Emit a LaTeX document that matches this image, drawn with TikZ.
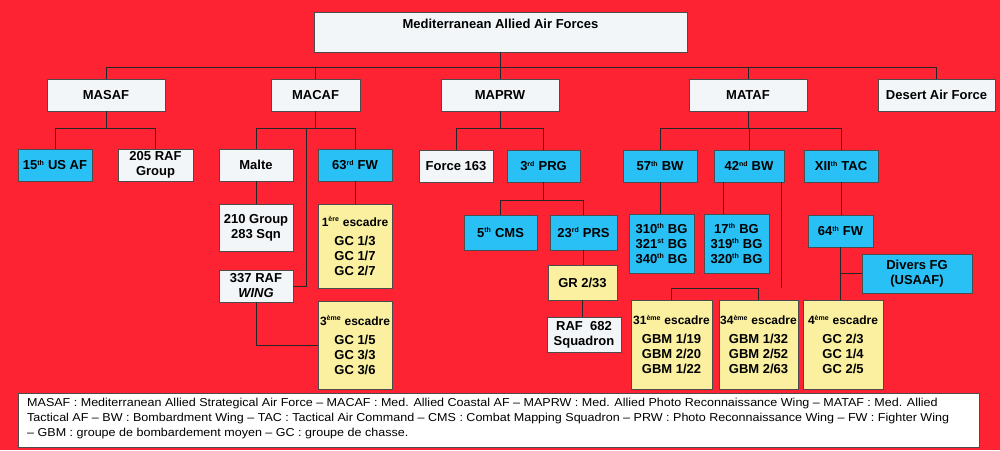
\documentclass[tikz,border=0pt]{standalone}
\usepackage{fontspec}
\setmainfont{Liberation Sans}
\newfontfamily\legf{Liberation Sans}[FakeStretch=1.09]
\definecolor{bgred}{RGB}{253,35,50}
\definecolor{bx}{RGB}{40,192,245}
\definecolor{yl}{RGB}{250,240,160}
\definecolor{wh}{RGB}{243,246,248}
\newcommand{\sx}[1]{\textsuperscript{\fontsize{7}{7}\selectfont #1}}
\newcommand{\esc}[1]{{\fontsize{12}{14}\selectfont #1}}
\begin{document}
\begin{tikzpicture}[x=1pt,y=-1pt,
  box/.style={draw=black!70,line width=0.8pt,inner sep=0pt,align=center,font=\fontsize{13}{15}\selectfont\bfseries},
  wb/.style={box,fill=wh}, bb/.style={box,fill=bx}, yb/.style={box,fill=yl},
  ln/.style={line width=0.9pt,black!85}]
\fill[bgred] (0,0) rectangle (1000,450);
\useasboundingbox (0,0) rectangle (1000,450);
\coordinate (r1) at (0,67);
\coordinate (r2) at (0,128);
\coordinate (r3) at (0,200);
\coordinate (r4) at (0,288);
\coordinate (m306) at (306,128);
% top
\node[wb,minimum width=373,text height=13,text depth=21,inner ysep=3] (maaf) at (500.5,32) {Mediterranean Allied Air Forces};
\node[wb,minimum width=118,minimum height=32] (masaf) at (106,95) {MASAF};
\node[wb,minimum width=89,minimum height=32] (macaf) at (315.5,95) {MACAF};
\node[wb,minimum width=118,minimum height=32] (maprw) at (500,95) {MAPRW};
\node[wb,minimum width=118,minimum height=32] (mataf) at (748,95) {MATAF};
\node[wb,minimum width=117,minimum height=32] (desert) at (936.5,95) {Desert Air Force};
% level 2
\node[bb,minimum width=74,minimum height=32] (us15) at (55,165) {15\sx{th} US AF};
\node[wb,minimum width=75,minimum height=32] (raf205) at (155.5,165) {205 RAF\\Group};
\node[wb,minimum width=74,minimum height=32] (malte) at (256,165) {Malte};
\node[bb,minimum width=74,minimum height=32] (fw63) at (355,165) {63\sx{rd} FW};
\node[wb,minimum width=74,minimum height=32] (f163) at (456,166) {Force 163};
\node[bb,minimum width=73,minimum height=32] (prg) at (543.5,166) {3\sx{rd} PRG};
\node[bb,minimum width=74,minimum height=32] (bw57) at (660,166) {57\sx{th} BW};
\node[bb,minimum width=70,minimum height=32] (bw42) at (749,166) {42\sx{nd} BW};
\node[bb,minimum width=74,minimum height=32] (tac) at (841,166) {XII\sx{th} TAC};
% level 3
\node[wb,minimum width=74,minimum height=47] (g210) at (256,227.5) {210 Group\\283 Sqn};
\node[wb,minimum width=74,minimum height=32] (wing) at (256,286) {337 RAF\\\itshape WING};
\node[yb,minimum width=74,minimum height=84] (esc1) at (355,246) {\esc{1\sx{ère} escadre}\\[4pt]GC 1/3\\GC 1/7\\GC 2/7};
\node[yb,minimum width=74,minimum height=88] (esc3) at (355,345) {\esc{3\sx{ème} escadre}\\[4pt]GC 1/5\\GC 3/3\\GC 3/6};
\node[bb,minimum width=73,minimum height=35] (cms5) at (500.5,232.5) {5\sx{th} CMS};
\node[bb,minimum width=67,minimum height=35] (prs23) at (583.5,232.5) {23\sx{rd} PRS};
\node[yb,minimum width=69,minimum height=35] (gr) at (582.5,282.5) {GR 2/33};
\node[wb,minimum width=74,minimum height=35] (raf682) at (584,334.5) {RAF~~682\\Squadron};
\node[bb,minimum width=65,minimum height=59] (bg310) at (661.5,243.5) {310\sx{th} BG\\321\sx{st} BG\\340\sx{th} BG};
\node[bb,minimum width=65,minimum height=59] (bg17) at (736.5,243.5) {17\sx{th} BG\\319\sx{th} BG\\320\sx{th} BG};
\node[bb,minimum width=65,minimum height=32] (fw64) at (840.5,231) {64\sx{th} FW};
\node[bb,minimum width=110,minimum height=39] (divers) at (917,273.5) {Divers FG\\(USAAF)};
\node[yb,minimum width=81,minimum height=89] (esc31) at (671.5,344.5) {\esc{31\sx{ème} escadre}\\[4pt]GBM 1/19\\GBM 2/20\\GBM 1/22};
\node[yb,minimum width=79,minimum height=89] (esc34) at (758.5,344.5) {\esc{34\sx{ème} escadre}\\[4pt]GBM 1/32\\GBM 2/52\\GBM 2/63};
\node[yb,minimum width=80,minimum height=89] (esc4) at (843,344.5) {\esc{4\sx{ème} escadre}\\[4pt]GC 2/3\\GC 1/4\\GC 2/5};
% legend
\node[draw=black!70,fill=white,minimum width=961,minimum height=54,inner sep=0pt] (leg) at (498.5,420) {};
\node[anchor=west,align=left,inner sep=0pt,font=\legf\fontsize{11.5}{15}\selectfont] (legt) at (27,419) {MASAF : Mediterranean Allied Strategical Air Force \textendash{} MACAF : Med. Allied Coastal AF \textendash{} MAPRW : Med. Allied Photo Reconnaissance Wing \textendash{} MATAF : Med. Allied\\Tactical AF \textendash{} BW : Bombardment Wing \textendash{} TAC : Tactical Air Command \textendash{} CMS : Combat Mapping Squadron \textendash{} PRW : Photo Reconnaissance Wing \textendash{} FW : Fighter Wing\\\textendash{} GBM : groupe de bombardement moyen \textendash{} GC : groupe de chasse.};
% connectors
\draw[ln] (maaf.south) -- (maaf.south |- r1);
\draw[ln] (masaf.north) -- (masaf.north |- r1) -- (desert.north |- r1) -- (desert.north);
\draw[ln] (macaf.north) -- (macaf.north |- r1);
\draw[ln] (maprw.north) -- (maprw.north |- r1);
\draw[ln] (mataf.north) -- (mataf.north |- r1);
\draw[ln] (masaf.south) -- (masaf.south |- r2);
\draw[ln] (us15.north) -- (us15.north |- r2) -- (raf205.north |- r2) -- (raf205.north);
\draw[ln] (macaf.south) -- (macaf.south |- r2);
\draw[ln] (malte.north) -- (malte.north |- r2) -- (fw63.north |- r2) -- (fw63.north);
\draw[ln] (m306) |- (wing.east);
\draw[ln] (malte.south) -- (g210.north);
\draw[ln] (fw63.south) -- (esc1.north);
\draw[ln] (wing.south) |- (esc3.west);
\draw[ln] (maprw.south) -- (maprw.south |- r2);
\draw[ln] (f163.north) -- (f163.north |- r2) -- (prg.north |- r2) -- (prg.north);
\draw[ln] (prg.south) -- (prg.south |- r3);
\draw[ln] (cms5.north) -- (cms5.north |- r3) -- (prs23.north |- r3) -- (prs23.north);
\draw[ln] (prs23.south) -- (prs23.south |- gr.north);
\draw[ln] (gr.south) -- (gr.south |- raf682.north);
\draw[ln] (mataf.south) -- (mataf.south |- r2);
\draw[ln] (bw57.north) -- (bw57.north |- r2) -- (tac.north |- r2) -- (tac.north);
\draw[ln] (bw42.north) -- (bw42.north |- r2);
\draw[ln] (bw57.south) -- (bw57.south |- bg310.north);
\draw[ln] ([xshift=-26pt]bw42.south) -- ([xshift=-26pt]bw42.south |- bg17.north);
\draw[ln] ([xshift=32pt]bw42.south) -- ([xshift=32pt]bw42.south |- r4);
\draw[ln] (esc31.north) -- (esc31.north |- r4) -- (esc34.north |- r4) -- (esc34.north);
\draw[ln] (tac.south) -- (tac.south |- fw64.north);
\draw[ln] (fw64.south) -- (fw64.south |- esc4.north);
\draw[ln] (divers.west) -- (divers.west -| fw64.south);
\end{tikzpicture}
\end{document}
